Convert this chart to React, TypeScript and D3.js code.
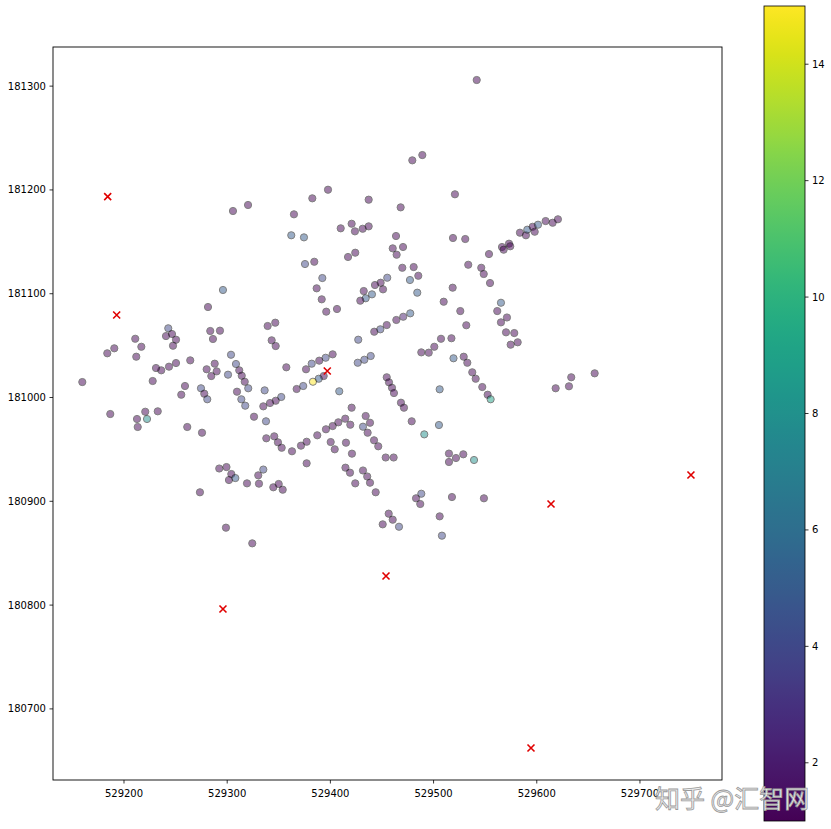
import React from "react";
import * as d3 from "d3";

// Sample points: easting, northing, value (colour)
const easting = [
  529305.6, 529320.2, 529295.9, 529281.4, 529479.4, 529489.1, 529397.7, 529382.5, 529437.1, 529520.7,
  529364.7, 529468.1, 529420.6, 529410.0, 529423.8, 529431.3, 529437.1, 529362.1, 529374.4, 529518.8,
  529463.6, 529460.4, 529470.4, 529464.2, 529417.1, 529424.1, 529375.4, 529384.4, 529469.7, 529480.7,
  529392.2, 529477.1, 529485.2, 529455.1, 529386.7, 529518.5, 529484.2, 529448.7, 529443.2, 529451.0,
  529432.3, 529440.3, 529434.2, 529429.0, 529391.6, 529509.8, 529396.0, 529406.4, 529525.9, 529463.9,
  529470.6, 529477.4, 529346.6, 529339.2, 529541.8, 529530.7, 529533.6, 529553.7, 529546.2, 529548.6,
  529554.7, 529561.7, 529565.3, 529571.1, 529566.3, 529567.9, 529573.1, 529574.3, 529583.7, 529589.5,
  529590.8, 529596.0, 529598.0, 529601.2, 529608.6, 529615.4, 529620.5, 529531.7, 529565.3, 529570.2,
  529578.2, 529574.7, 529581.5, 529517.3, 529519.3, 529529.2, 529532.7, 529537.5, 529540.8, 529547.2,
  529552.4, 529555.3, 529618.3, 529631.2, 529633.4, 529656.1, 529514.9, 529521.7, 529528.8, 529514.9,
  529539.2, 529242.9, 529240.7, 529246.5, 529250.4, 529247.5, 529210.9, 529216.8, 529211.9, 529190.6,
  529183.8, 529283.6, 529293.0, 529286.2, 529343.1, 529347.0, 529264.2, 529250.4, 529243.6, 529236.1,
  529231.0, 529227.8, 529159.6, 529280.1, 529287.9, 529289.8, 529284.6, 529300.8, 529303.7, 529308.5,
  529311.7, 529314.1, 529317.0, 529320.4, 529309.5, 529313.7, 529317.5, 529336.3, 529259.1, 529255.5,
  529274.6, 529277.8, 529280.7, 529335.0, 529326.0, 529337.6, 529337.9, 529186.7, 529220.6, 529212.6,
  529222.3, 529213.3, 529232.7, 529261.3, 529275.6, 529292.3, 529299.3, 529335.0, 529357.3, 529427.0,
  529442.5, 529448.4, 529454.6, 529376.4, 529381.9, 529389.2, 529395.4, 529402.2, 529393.5, 529388.7,
  529383.1, 529373.7, 529367.3, 529352.4, 529347.0, 529341.5, 529408.6, 529426.5, 529432.9, 529439.1,
  529488.1, 529495.3, 529500.7, 529507.2, 529454.6, 529456.8, 529459.7, 529461.6, 529468.4, 529471.3,
  529505.9, 529478.8, 529505.2, 529491.0, 529420.6, 529434.2, 529438.4, 529431.6, 529436.1, 529442.3,
  529446.4, 529453.6, 529461.3, 529414.4, 529407.7, 529402.2, 529395.7, 529419.3, 529387.3, 529377.0,
  529371.5, 529362.8, 529400.3, 529404.2, 529415.1, 529420.9, 529377.0, 529414.6, 529431.6, 529345.6,
  529349.2, 529352.8, 529304.0, 529301.7, 529307.9, 529319.2, 529330.1, 529330.8, 529344.7, 529349.9,
  529353.8, 529273.6, 529298.8, 529324.3, 529419.0, 529435.7, 529424.1, 529438.4, 529443.9, 529488.1,
  529483.0, 529487.1, 529517.8, 529548.8, 529456.5, 529460.4, 529450.7, 529466.5, 529505.9, 529508.1,
];
const northing = [
  181179.7, 181185.5, 181103.6, 181087.2, 181228.5, 181233.6, 181200.2, 181191.9, 181190.6, 181195.8,
  181176.5, 181183.2, 181167.4, 181163.0, 181160.1, 181162.6, 181164.9, 181156.3, 181154.3, 181153.7,
  181155.6, 181143.7, 181145.0, 181137.6, 181135.4, 181139.5, 181128.6, 181130.8, 181125.0, 181125.7,
  181115.1, 181113.2, 181117.3, 181115.4, 181105.2, 181105.8, 181101.0, 181110.6, 181108.4, 181104.2,
  181102.6, 181099.4, 181095.6, 181093.3, 181094.6, 181092.3, 181082.7, 181085.3, 181083.3, 181074.7,
  181077.8, 181081.1, 181072.1, 181068.9, 181305.9, 181152.7, 181127.9, 181138.2, 181125.0, 181119.0,
  181110.3, 181083.3, 181091.3, 181077.1, 181145.0, 181142.4, 181148.2, 181145.7, 181158.8, 181156.3,
  181161.7, 181164.5, 181159.7, 181166.5, 181170.0, 181168.4, 181171.7, 181069.6, 181072.4, 181062.8,
  181062.1, 181050.9, 181053.2, 181057.1, 181037.8, 181039.3, 181033.5, 181024.3, 181018.1, 181010.1,
  181002.7, 180998.3, 181008.9, 181010.8, 181019.5, 181023.3, 180946.0, 180941.7, 180945.3, 180937.9,
  180939.8, 181066.7, 181059.2, 181061.2, 181055.7, 181049.9, 181056.6, 181048.9, 181039.3, 181047.4,
  181042.6, 181064.1, 181064.4, 181056.4, 181055.1, 181049.6, 181035.8, 181033.2, 181029.7, 181026.2,
  181028.4, 181015.9, 181014.9, 181027.2, 181032.6, 181025.2, 181020.7, 181022.0, 181041.2, 181032.3,
  181026.2, 181021.0, 181015.2, 181008.9, 181005.6, 180998.3, 180992.1, 181006.9, 181011.1, 181002.7,
  181008.9, 181003.7, 180998.3, 180991.5, 180981.5, 180977.1, 180960.7, 180984.1, 180986.3, 180979.3,
  180979.3, 180971.6, 180986.7, 180971.6, 180966.1, 180931.6, 180933.0, 180930.6, 181029.1, 181055.7,
  181063.4, 181065.7, 181069.8, 181027.2, 181032.6, 181035.5, 181038.3, 181041.6, 181020.7, 181018.1,
  181015.2, 181011.1, 181008.2, 181000.5, 180996.9, 180994.7, 181006.0, 181033.5, 181036.4, 181040.0,
  181043.5, 181043.2, 181048.9, 181056.6, 181019.5, 181014.6, 181009.4, 181004.3, 180995.0, 180990.2,
  181007.9, 180977.1, 180973.5, 180964.5, 180990.2, 180982.2, 180975.7, 180971.9, 180966.1, 180958.8,
  180953.0, 180942.2, 180942.2, 180979.6, 180976.1, 180972.5, 180969.4, 180973.8, 180963.6, 180957.4,
  180953.6, 180948.2, 180957.1, 180950.1, 180956.5, 180945.9, 180936.6, 180932.4, 180929.7, 180962.6,
  180956.8, 180951.6, 180926.3, 180920.5, 180922.4, 180917.3, 180925.0, 180917.0, 180913.5, 180916.7,
  180911.2, 180908.7, 180874.6, 180859.5, 180927.6, 180923.9, 180917.3, 180917.9, 180908.7, 180907.3,
  180902.9, 180897.4, 180904.1, 180902.9, 180888.1, 180882.3, 180877.8, 180875.5, 180885.5, 180866.9,
];
const value = [
  1, 1, 5, 1, 1, 1, 1, 1, 1, 1,
  1, 1, 1, 1, 1, 1, 1, 5, 5, 1,
  1, 1, 1, 1, 1, 1, 4, 1, 1, 1,
  4, 5, 1, 4, 1, 1, 5, 1, 1, 1,
  1, 5, 5, 1, 1, 1, 1, 1, 1, 1,
  2, 5, 1, 1, 1, 1, 1, 1, 1, 1,
  1, 1, 5, 1, 1, 1, 1, 1, 1, 1,
  5, 1, 1, 5, 1, 1, 1, 1, 1, 1,
  1, 1, 1, 1, 5, 1, 1, 1, 1, 1,
  1, 9, 1, 1, 1, 1, 1, 1, 1, 1,
  8, 4, 1, 1, 1, 1, 1, 1, 1, 1,
  1, 1, 1, 1, 1, 1, 1, 1, 1, 1,
  1, 1, 1, 1, 1, 1, 1, 4, 4, 4,
  1, 1, 1, 4, 1, 4, 4, 4, 1, 1,
  4, 1, 4, 1, 1, 4, 1, 1, 1, 1,
  8, 1, 1, 1, 1, 1, 1, 4, 1, 4,
  1, 4, 1, 1, 4, 1, 4, 1, 1, 5,
  15, 4, 1, 4, 1, 1, 5, 4, 4, 4,
  1, 1, 1, 1, 1, 1, 1, 1, 1, 1,
  5, 1, 5, 8, 1, 1, 1, 4, 1, 1,
  1, 1, 1, 1, 1, 1, 1, 1, 1, 1,
  1, 1, 1, 1, 1, 1, 1, 1, 1, 1,
  1, 1, 1, 1, 5, 1, 1, 1, 1, 1,
  1, 1, 1, 1, 1, 1, 1, 1, 1, 4,
  1, 1, 1, 1, 1, 1, 1, 4, 1, 4,
];

// Red "x" locations
const centerEast = [529184.2, 529192.9, 529397.0, 529295.9, 529453.9, 529613.8, 529749.4, 529594.4];
const centerNorth = [181193.5, 181079.5, 181025.5, 180796.2, 180828.0, 180897.4, 180925.3, 180662.3];

const xTicks = [529200, 529300, 529400, 529500, 529600, 529700];
const yTicks = [180700, 180800, 180900, 181000, 181100, 181200, 181300];
const cbTicks = [2, 4, 6, 8, 10, 12, 14];

const W = 831;
const H = 829;
const plot = { left: 53, right: 722, top: 47, bottom: 780 };
const cb = { left: 764, right: 805, top: 6, bottom: 821 };
const font = "DejaVu Sans, sans-serif";

export default function App() {
  const x = d3.scaleLinear().domain([529131.2, 529779.5]).range([plot.left, plot.right]);
  const y = d3.scaleLinear().domain([180631.5, 181337.7]).range([plot.bottom, plot.top]);
  const color = d3.scaleSequential(d3.interpolateViridis).domain([1, 15]);
  const cbY = d3.scaleLinear().domain([1, 15]).range([cb.bottom, cb.top]);

  const stops = d3.range(0, 1.0001, 0.02);
  const pts = easting.map((e, i) => ({ e, n: northing[i], v: value[i] }));

  return (
    <svg
      width={W}
      height={H}
      style={{ position: "absolute", left: 0, top: 0, background: "#fff" }}
      fontFamily={font}
    >
      <defs>
        <linearGradient id="cbgrad" x1="0" y1="1" x2="0" y2="0">
          {stops.map((t) => (
            <stop key={t} offset={t} stopColor={d3.interpolateViridis(t)} />
          ))}
        </linearGradient>
        <clipPath id="plotclip">
          <rect x={plot.left} y={plot.top} width={plot.right - plot.left} height={plot.bottom - plot.top} />
        </clipPath>
      </defs>
      <rect width={W} height={H} fill="#fff" />

      {/* points */}
      <g clipPath="url(#plotclip)">
        {pts.map((p, i) => (
          <circle
            key={i}
            cx={x(p.e)}
            cy={y(p.n)}
            r={3.6}
            fill={color(p.v)}
            stroke="#000"
            strokeWidth={1}
            opacity={0.5}
          />
        ))}
        {centerEast.map((e, i) => {
          const cx = x(e);
          const cy = y(centerNorth[i]);
          const s = 3.5;
          return (
            <path
              key={"c" + i}
              d={`M${cx - s},${cy - s}L${cx + s},${cy + s}M${cx - s},${cy + s}L${cx + s},${cy - s}`}
              stroke="#e00000"
              strokeWidth={1.6}
              fill="none"
            />
          );
        })}
      </g>

      {/* frame */}
      <rect
        x={plot.left}
        y={plot.top}
        width={plot.right - plot.left}
        height={plot.bottom - plot.top}
        fill="none"
        stroke="#000"
        strokeWidth={0.9}
      />

      {/* x axis */}
      {xTicks.map((t) => (
        <g key={t} transform={`translate(${x(t)},${plot.bottom})`}>
          <line y2={3.5} stroke="#000" strokeWidth={0.8} />
          <text y={17} textAnchor="middle" fontSize={10} fill="#000">
            {t}
          </text>
        </g>
      ))}
      {/* y axis */}
      {yTicks.map((t) => (
        <g key={t} transform={`translate(${plot.left},${y(t)})`}>
          <line x2={-3.5} stroke="#000" strokeWidth={0.8} />
          <text x={-7} dy="0.35em" textAnchor="end" fontSize={10} fill="#000">
            {t}
          </text>
        </g>
      ))}

      {/* colorbar */}
      <rect
        x={cb.left}
        y={cb.top}
        width={cb.right - cb.left}
        height={cb.bottom - cb.top}
        fill="url(#cbgrad)"
        stroke="#000"
        strokeWidth={0.8}
      />
      {cbTicks.map((t) => (
        <g key={t} transform={`translate(${cb.right},${cbY(t)})`}>
          <line x2={3.5} stroke="#000" strokeWidth={0.8} />
          <text x={7} dy="0.35em" fontSize={10} fill="#000">
            {t}
          </text>
        </g>
      ))}

      {/* watermark */}
      <text
        x={655}
        y={808}
        fontSize={25}
        fontFamily="Noto Sans CJK SC, sans-serif"
        fill="#f0f0f0"
        stroke="#9a9a9a"
        strokeWidth={0.8}
      >
        知乎 @汇智网
      </text>
    </svg>
  );
}
